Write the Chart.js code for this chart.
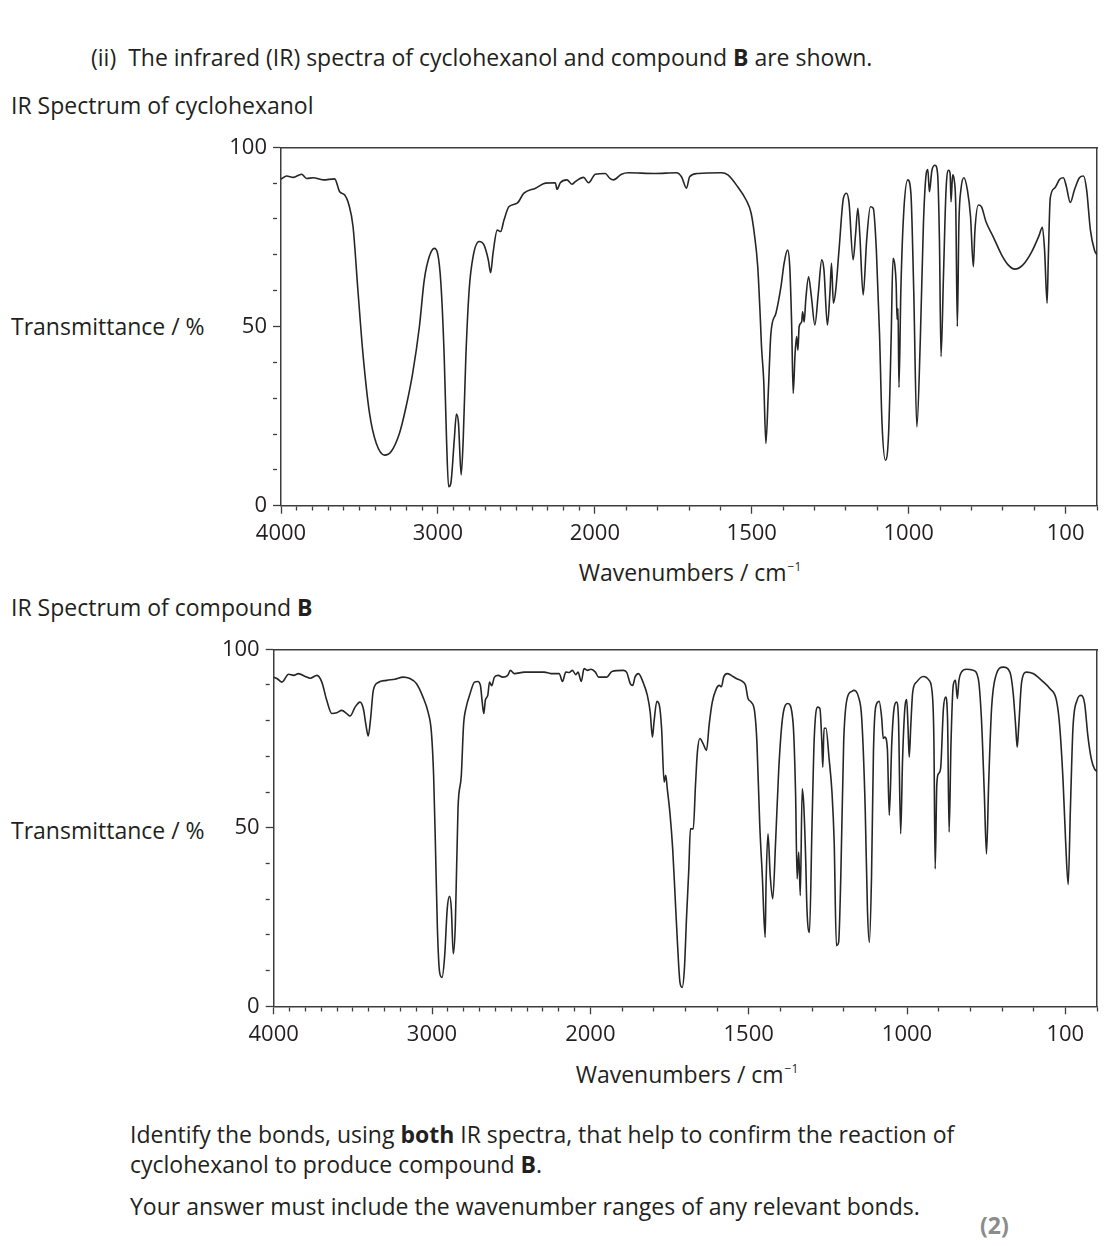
<!DOCTYPE html>
<html>
<head>
<meta charset="utf-8">
<script src="https://cdn.jsdelivr.net/npm/chart.js@4/dist/chart.umd.min.js"></script>
<style>
html,body{margin:0;padding:0;background:#fff;}
body{width:1104px;height:1246px;position:relative;overflow:hidden;font-family:"Open Sans",sans-serif;color:#231f20;font-size:23px;}
.t{position:absolute;white-space:nowrap;line-height:30px;height:30px;}
.c{text-align:center;width:400px;}
.sp{font-size:12px;position:relative;top:-10px;margin-left:1px;}
canvas{position:absolute;left:0;}
</style>
</head>
<body>
<div class="t" style="left:91px;top:42px">(ii)&nbsp; The infrared (IR) spectra of cyclohexanol and compound <b>B</b> are shown.</div>
<div class="t" style="left:11px;top:90px">IR Spectrum of cyclohexanol</div>
<div class="t" style="left:11px;top:311px">Transmittance / %</div>
<div class="t c" style="left:490px;top:557px">Wavenumbers / cm<span class="sp">−1</span></div>
<div class="t" style="left:11px;top:592px">IR Spectrum of compound <b>B</b></div>
<div class="t" style="left:11px;top:815px">Transmittance / %</div>
<div class="t c" style="left:487px;top:1059px">Wavenumbers / cm<span class="sp">−1</span></div>
<div class="t" style="left:130px;top:1119px">Identify the bonds, using <b>both</b> IR spectra, that help to confirm the reaction of</div>
<div class="t" style="left:130px;top:1149px">cyclohexanol to produce compound <b>B</b>.</div>
<div class="t" style="left:130px;top:1191px">Your answer must include the wavenumber ranges of any relevant bonds.</div>
<div class="t" style="left:980px;top:1210px;color:#8c8c8c;font-weight:bold;">(2)</div>

<canvas id="c1" width="1104" height="440" style="top:120px;width:1104px;height:440px"></canvas>
<canvas id="c2" width="1104" height="440" style="top:620px;width:1104px;height:440px"></canvas>

<script>
// ---- tick definitions ----
const xTickValues = [4000,3900,3800,3700,3600,3500,3400,3300,3200,3100,3000,2900,2800,2700,2600,2500,2400,2300,2200,2100,2000,1900,1800,1700,1600,1500,1400,1300,1200,1100,1000,900,800,700,600,500,400];
const xMajorValues = [4000, 3000, 2000, 1500, 1000, 500];
const xMajorLabels = ['4000', '3000', '2000', '1500', '1000', '100'];
const yMajorValues = [0, 50, 100];
const yMajorLabels = ['0', '50', '100'];

// ---- cyclohexanol spectrum ----
const cycWavenumber = [4000,3964,3922,3869,3837,3795,3731,3658,3626,3594,3567,3541,3510,3478,3436,3393,3340,3298,3245,3203,3161,3118,3087,3055,3023,3002,2981,2960,2945,2932,2918,2896,2882,2869,2852,2839,2822,2801,2776,2738,2706,2679,2664,2649,2622,2600,2579,2548,2495,2452,2378,2315,2252,2241,2220,2178,2146,2125,2072,2040,2008,1999,1967,1952,1941,1915,1893,1809,1740,1724,1708,1698,1671,1597,1576,1545,1518,1502,1492,1481,1473,1469,1462,1455,1447,1439,1423,1407,1397,1386,1379,1373,1368,1362,1357,1353,1349,1341,1338,1333,1328,1319,1310,1299,1288,1277,1270,1259,1251,1246,1240,1233,1222,1208,1198,1190,1177,1169,1162,1156,1145,1134,1122,1113,1103,1093,1085,1074,1064,1056,1050,1044,1040,1037,1034,1031,1025,1016,1003,993,984,974,963,953,944,939,934,926,916,908,902,897,889,881,873,868,865,860,855,850,845,840,833,824,813,803,794,789,778,768,754,731,704,683,662,636,609,585,574,567,559,555,549,535,519,507,498,485,472,456,443,433,421,408,400];
const cycTransmittance = [91.1,92,91.6,92.5,91.3,91.5,90.9,91.2,87.6,86.7,83.9,77.9,60.2,42.5,25.8,17.4,14.1,15.1,20.2,27.6,36.9,50,63,69.5,71.8,70.4,62,41.6,18.3,5.3,6.2,18.3,25.6,23,8.6,18.3,41.6,60.2,69.5,73.7,72.7,68.6,65,70.4,76.9,76.5,79.7,83.4,84.4,87.2,88.6,90,90.1,88.3,90.1,90.9,89.7,90.4,91.6,90.1,92,92.5,92.7,91.3,90.9,92.5,92.9,92.7,92.9,91.8,88.6,91.8,92.7,92.9,92.3,89,85.3,81.6,76,66.7,52.7,44.4,35,17.4,32.3,48.1,53.7,61.1,67.6,71.3,66.7,50.9,31.3,42.5,47.2,43.4,50,51.3,54.1,51.3,57.4,63.9,58.3,50.4,59.3,68.6,65.8,50.4,59.3,67.6,56.5,59.7,71.3,85.8,87.2,84.4,68.6,76,83,76,58.8,74,83.4,83,71.3,48.1,23,12.7,20.2,46.2,69,67,62,52,55,33,60,81.6,90.9,87.2,60.2,22,46.2,78.8,92.7,93.8,87.6,93.6,95,92.7,74,41.6,64.8,88.1,93.6,92.7,84.8,92.3,90.9,83.4,50,78.8,88.6,91.5,88.1,80.7,66.7,76.7,83.9,83.4,79.3,75.1,70,67.2,66,67.2,70.7,75.3,77.7,71.3,56.5,69.5,85.8,88.6,91.1,91.5,89.2,84.6,88.1,91.5,92,88.1,76.9,71.3,70];

// ---- compound B spectrum ----
const bWavenumber = [4000,3973,3948,3906,3874,3843,3801,3769,3727,3696,3665,3633,3602,3570,3539,3518,3486,3455,3434,3417,3403,3388,3371,3340,3287,3235,3182,3140,3099,3057,3025,3004,2990,2979,2966,2952,2937,2920,2904,2889,2878,2866,2853,2836,2815,2801,2784,2763,2732,2711,2694,2683,2673,2663,2648,2637,2623,2606,2581,2554,2522,2505,2480,2417,2291,2249,2197,2176,2155,2134,2113,2092,2078,2057,2040,2019,1998,1984,1974,1948,1932,1895,1885,1874,1866,1859,1848,1832,1820,1811,1804,1799,1790,1782,1775,1767,1762,1757,1748,1740,1733,1725,1717,1710,1703,1696,1689,1684,1675,1668,1662,1654,1644,1633,1625,1615,1602,1593,1586,1579,1568,1555,1539,1520,1510,1502,1492,1481,1474,1465,1457,1448,1445,1439,1432,1424,1415,1405,1392,1376,1360,1352,1347,1342,1337,1331,1326,1320,1316,1308,1300,1293,1282,1275,1269,1266,1262,1256,1246,1237,1230,1223,1216,1209,1200,1188,1174,1169,1153,1143,1132,1125,1119,1112,1106,1099,1088,1080,1075,1070,1062,1056,1048,1041,1033,1027,1020,1014,1006,1001,997,993,988,982,970,949,930,919,915,911,906,901,894,885,878,872,867,861,854,847,841,836,828,812,791,775,765,756,749,742,733,719,696,675,665,657,652,647,638,623,602,575,549,528,518,507,499,491,484,476,463,450,439,429,418,408,400];
const bTransmittance = [92.2,91.6,90.8,93,92.7,93.2,92.4,91.9,92.7,90.8,85.7,82,82.2,82.9,82,81.3,83.8,85.2,83.4,78.7,75.7,80.6,88.5,90.7,91.3,91.6,92.2,91.8,90.4,86.6,82.4,76.8,64.7,46,21.7,9.5,8.1,14.2,27.3,30.8,27.3,14.7,22.6,55.3,64.7,78.7,83.8,87.1,90.8,91,89.8,85.2,82,85.8,87.1,90.8,89.8,92.2,92.7,92.2,92.7,94.1,93.2,93.6,93.6,93.2,93.2,91,93.6,93.5,94.1,92.9,93.6,91,94.6,94.1,94.4,93.6,92.2,92.2,93.8,94.1,93.5,90.4,89.9,92.2,93.2,90.4,87.1,82.4,75.4,79.6,85.4,84.3,77.8,62.8,64.7,60.9,53.5,44.1,32,17.9,6.7,5.3,10.5,25.4,38.5,49.7,49.7,61.9,71.2,75,73.6,71.7,78.7,85.2,89,89.9,89.5,92.2,93.2,92.7,91.8,91,89.9,86.2,85.2,82.4,74,50.7,36.6,19.3,34.8,48.3,36.6,30.1,46,66.5,81.5,84.8,79.6,60,35.7,43.2,31,60.9,56.3,41.3,27.3,20.7,50.7,75,83.8,83.4,74,67,77.9,77.9,69.3,60,46,17,17.9,36.6,74,86.6,88.2,88.5,86.6,80.6,55.3,27.3,17.9,36.6,71.2,83.8,85.4,80.8,75,75.4,72.1,53.5,74,83.4,85.2,80.6,48.3,69.3,84.3,85.9,78.7,69.8,78.7,88,90.8,92.4,91.3,86.2,74,38.5,61.9,65.1,66.5,83.4,86.6,80.6,48.8,74,89.9,91.3,86.2,91.3,93.6,94.4,94.1,91.8,80.6,60,42.7,62.8,83.4,92.7,95,93.6,88,78.7,72.6,78.7,90.8,93.6,93.2,91.3,89,85.7,78.7,62.8,46,34.1,55.3,77.8,85.7,87.1,84.8,75.9,69.3,66.5,65.8];

// ---- styles ----
const TEXT = '#231f20';
const LINE = '#262626';
const AXIS = '#3d3d3d';
const FONT = 'Open Sans';

// ---- piecewise IR wavenumber scale (4000-2000 compressed, below 2000 expanded x2) ----
const toUnit = v => v >= 2000 ? (4000 - v) / 1000 : 2 + (2000 - v) / 500;
const fromUnit = u => u <= 2 ? 4000 - u * 1000 : 2000 - (u - 2) * 500;

class IrScale extends Chart.LinearScale {
  buildTicks() {
    this.start = this.min; this.end = this.max;
    return xTickValues.filter(v => v >= this.min && v <= this.max).map(v => ({ value: v }));
  }
  getPixelForValue(value) {
    const u0 = toUnit(this.max), u1 = toUnit(this.min);
    return this.getPixelForDecimal((toUnit(value) - u0) / (u1 - u0));
  }
  getValueForPixel(pixel) {
    const u0 = toUnit(this.max), u1 = toUnit(this.min);
    return fromUnit(u0 + this.getDecimalForPixel(pixel) * (u1 - u0));
  }
}
IrScale.id = 'ir';
IrScale.defaults = Chart.LinearScale.defaults;
Chart.register(IrScale);

function makeChart(canvasId, wn, tr, pad) {
  const points = wn.map((w, i) => ({ x: w, y: tr[i] }));
  const tickFont = { family: FONT, size: 22 };
  return new Chart(document.getElementById(canvasId), {
    type: 'line',
    data: {
      datasets: [{
        data: points, xAxisID: 'x', yAxisID: 'y',
        borderColor: LINE, borderWidth: 1.6, pointRadius: 0,
        cubicInterpolationMode: 'monotone', fill: false
      }]
    },
    options: {
      responsive: false, animation: false, events: [],
      layout: { padding: pad },
      plugins: { legend: { display: false }, tooltip: { enabled: false } },
      scales: {
        x: {
          type: 'ir', position: 'bottom', min: 400, max: 4000,
          afterFit: s => { s.height = 40; },
          ticks: {
            autoSkip: false, maxRotation: 0, minRotation: 0, padding: 7,
            color: TEXT, font: tickFont,
            callback: v => { const k = xMajorValues.indexOf(v); return k >= 0 ? xMajorLabels[k] : ''; }
          },
          grid: {
            drawOnChartArea: false, drawTicks: true, tickLength: 8,
            tickColor: AXIS, tickWidth: 1.3,
            tickBorderDash: c => xMajorValues.includes(c.tick.value) ? [] : [4, 30]
          },
          border: { display: true, color: AXIS, width: 1.5 }
        },
        y: {
          type: 'linear', position: 'left', min: 0, max: 100,
          afterFit: s => { s.width = 60; },
          ticks: {
            stepSize: 10, autoSkip: false, padding: 6,
            color: TEXT, font: tickFont,
            callback: v => { const k = yMajorValues.indexOf(v); return k >= 0 ? yMajorLabels[k] : ''; }
          },
          grid: {
            drawOnChartArea: false, drawTicks: true, tickLength: 8,
            tickColor: AXIS, tickWidth: 1.3,
            tickBorderDash: c => yMajorValues.includes(c.tick.value) ? [] : [4, 30]
          },
          border: { display: true, color: AXIS, width: 1.5 }
        },
        xTop: {
          type: 'linear', position: 'top',
          afterFit: s => { s.height = 0; },
          ticks: { display: false }, grid: { display: false, drawTicks: false },
          border: { display: true, color: AXIS, width: 1.5 }
        },
        yRight: {
          type: 'linear', position: 'right',
          afterFit: s => { s.width = 0; },
          ticks: { display: false }, grid: { display: false, drawTicks: false },
          border: { display: true, color: AXIS, width: 1.5 }
        }
      }
    }
  });
}

makeChart('c1', cycWavenumber, cycTransmittance, { left: 221, top: 27.3, right: 3, bottom: 14.3 });
makeChart('c2', bWavenumber, bTransmittance, { left: 213.7, top: 29.3, right: 2.3, bottom: 13.7 });
</script>
</body>
</html>
